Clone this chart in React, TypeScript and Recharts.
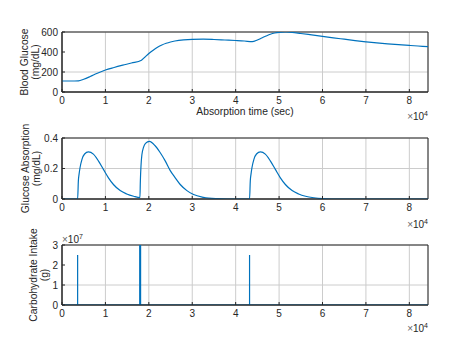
import { LineChart, Line, XAxis, YAxis, Label, ReferenceArea, CartesianGrid } from "recharts";

const FONT = "'Liberation Sans', Arial, Helvetica, sans-serif";
const INK = "#262626";
const GRID = "#cccccc";
const BLUE = "#0072bd";

const X_MAX = 84300;
const timeTicks = [0, 10000, 20000, 30000, 40000, 50000, 60000, 70000, 80000];
const glucoseTicks = [0, 200, 400, 600];
const absorptionTicks = [0, 0.2, 0.4];
const intakeTicks = [0, 1e7, 2e7, 3e7];

// blood glucose (mg/dL) vs time (sec)
const glucoseTime = [
  0, 2000, 3800, 5000, 6500, 8000, 10000, 12000, 14000, 16000, 18300, 19000,
  20000, 21000, 22000, 23000, 24000, 25000, 26000, 28000, 30000, 32500, 35000,
  37500, 40000, 42000, 43800, 45000, 46000, 47000, 48000, 49000, 50000, 51500,
  53000, 55000, 57500, 60000, 62500, 65000, 67500, 70000, 72500, 75000, 77500,
  80000, 82000, 84300,
];
const glucoseValue = [
  110, 110, 112, 128, 155, 185, 220, 245, 268, 290, 318, 345, 385, 418, 447,
  470, 487, 500, 510, 522, 527, 528, 525, 520, 515, 510, 503, 520, 540, 560,
  578, 590, 597, 600, 596, 585, 571, 557, 542, 528, 514, 502, 491, 482, 474,
  466, 460, 453,
];

// glucose absorption (mg/dL)
const absorptionTime = [
  0, 3600, 3770, 3920, 4150, 4600, 5200, 6080, 7230, 8380, 9540, 10700, 11850,
  13400, 14900, 16500, 17950, 18050, 18200, 18400, 18770, 19230, 20150, 21460,
  22600, 23770, 24900, 26080, 27230, 28770, 30300, 32600, 35700, 38000, 43200,
  43370, 43520, 43750, 44200, 44800, 45700, 46830, 47980, 49140, 50300, 51450,
  53000, 54500, 56100, 58000, 60000, 62000, 84300,
];
const absorptionValue = [
  0, 0, 0.12, 0.16, 0.205, 0.26, 0.295, 0.309, 0.294, 0.25, 0.194, 0.139, 0.095,
  0.055, 0.033, 0.018, 0.009, 0.12, 0.22, 0.29, 0.338, 0.365, 0.378, 0.349,
  0.305, 0.25, 0.188, 0.139, 0.095, 0.055, 0.029, 0.011, 0.002, 0, 0, 0.12,
  0.16, 0.205, 0.26, 0.295, 0.309, 0.294, 0.25, 0.194, 0.139, 0.095, 0.055,
  0.033, 0.018, 0.008, 0.002, 0, 0,
];

// carbohydrate intake (g), impulses
const intakeTime = [
  0, 3600, 3600, 3600, 17900, 17900, 17900, 18100, 18100, 18100, 43200, 43200,
  43200, 84300,
];
const intakeValue = [0, 0, 2.5e7, 0, 0, 3e7, 0, 0, 3e7, 0, 0, 2.5e7, 0, 0];

const glucoseData = glucoseTime.map((t, i) => ({ t, v: glucoseValue[i] }));
const absorptionData = absorptionTime.map((t, i) => ({ t, v: absorptionValue[i] }));
const intakeData = intakeTime.map((t, i) => ({ t, v: intakeValue[i] }));

const tickStyle = { fill: INK, fontSize: 10, fontFamily: FONT };

function yTitle(lines: string[], x1: number, x2: number) {
  return (props: any) => {
    const vb = props.viewBox || {};
    const cy = vb.y + vb.height / 2;
    return (
      <g>
        {[x1, x2].map((x, i) => (
          <text
            key={i}
            x={x}
            y={cy}
            transform={`rotate(-90 ${x} ${cy})`}
            textAnchor="middle"
            fill={INK}
            fontSize={10.3}
            fontFamily={FONT}
          >
            {lines[i]}
          </text>
        ))}
      </g>
    );
  };
}

function power(exp: string, x: number, y: number, anchor: "start" | "end") {
  return () => (
    <text x={x} y={y} textAnchor={anchor} fill={INK} fontFamily={FONT} fontSize={10}>
      <tspan fill="#666">×</tspan>10
      <tspan dy={-4} fontSize={7}>
        {exp}
      </tspan>
    </text>
  );
}

function Panel(props: any) {
  const { data, top, height, plotTop, plotBottom, yDomain, yTicks, fmt, title, titleX, bottomLabel, topLabel } = props;
  return (
    <div style={{ position: "absolute", left: 0, top, width: 474, height }}>
      <LineChart
        width={474}
        height={height}
        data={data}
        margin={{ top: plotTop, right: 46, bottom: 0, left: 0 }}
      >
        <CartesianGrid stroke={GRID} strokeOpacity={1} />
        <XAxis
          dataKey="t"
          type="number"
          domain={[0, X_MAX]}
          allowDataOverflow
          ticks={timeTicks}
          tickFormatter={(v: number) => String(v / 10000)}
          tick={tickStyle}
          tickSize={-3}
          tickMargin={8}
          stroke={INK}
          height={height - plotBottom}
        >
          <Label content={bottomLabel} />
        </XAxis>
        <YAxis
          type="number"
          domain={yDomain}
          allowDataOverflow
          ticks={yTicks}
          tickFormatter={fmt}
          tick={tickStyle}
          tickSize={-3}
          tickMargin={7}
          stroke={INK}
          width={62}
        >
          <Label content={yTitle(title, titleX[0], titleX[1])} />
        </YAxis>
        <ReferenceArea
          x1={0}
          x2={X_MAX}
          y1={yDomain[0]}
          y2={yDomain[1]}
          fill="none"
          stroke={INK}
          strokeWidth={1}
          fillOpacity={0}
          label={topLabel ? <Label content={topLabel} /> : undefined}
        />
        <Line
          type={props.linear ? "linear" : "monotone"}
          dataKey="v"
          stroke={BLUE}
          strokeWidth={1.2}
          dot={false}
          isAnimationActive={false}
        />
      </LineChart>
    </div>
  );
}

export default function App() {
  const xTitle = () => (
    <g>
      <text x={245} y={115} textAnchor="middle" fill={INK} fontFamily={FONT} fontSize={10.3}>
        Absorption time (sec)
      </text>
      {power("4", 428, 120, "end")()}
    </g>
  );
  return (
    <div style={{ position: "absolute", left: 0, top: 0, width: 474, height: 355, background: "#fff" }}>
      <Panel
        data={glucoseData}
        top={0}
        height={125}
        plotTop={32}
        plotBottom={92}
        yDomain={[0, 600]}
        yTicks={glucoseTicks}
        fmt={(v: number) => String(v)}
        title={["Blood Glucose", "(mg/dL)"]}
        titleX={[27.5, 39]}
        bottomLabel={xTitle}
      />
      <Panel
        data={absorptionData}
        top={110}
        height={125}
        plotTop={28}
        plotBottom={89}
        yDomain={[0, 0.4]}
        yTicks={absorptionTicks}
        fmt={(v: number) => String(v)}
        title={["Glucose Absorption", "(mg/dL)"]}
        titleX={[28.5, 40]}
        bottomLabel={power("4", 428, 118, "end")}
      />
      <Panel
        data={intakeData}
        top={215}
        height={135}
        plotTop={30}
        plotBottom={90}
        yDomain={[0, 3e7]}
        yTicks={intakeTicks}
        fmt={(v: number) => String(v / 1e7)}
        title={["Carbohydrate Intake", "(g)"]}
        titleX={[36.5, 48]}
        bottomLabel={power("4", 428, 117, "end")}
        topLabel={power("7", 62, 28, "start")}
        linear
      />
    </div>
  );
}
